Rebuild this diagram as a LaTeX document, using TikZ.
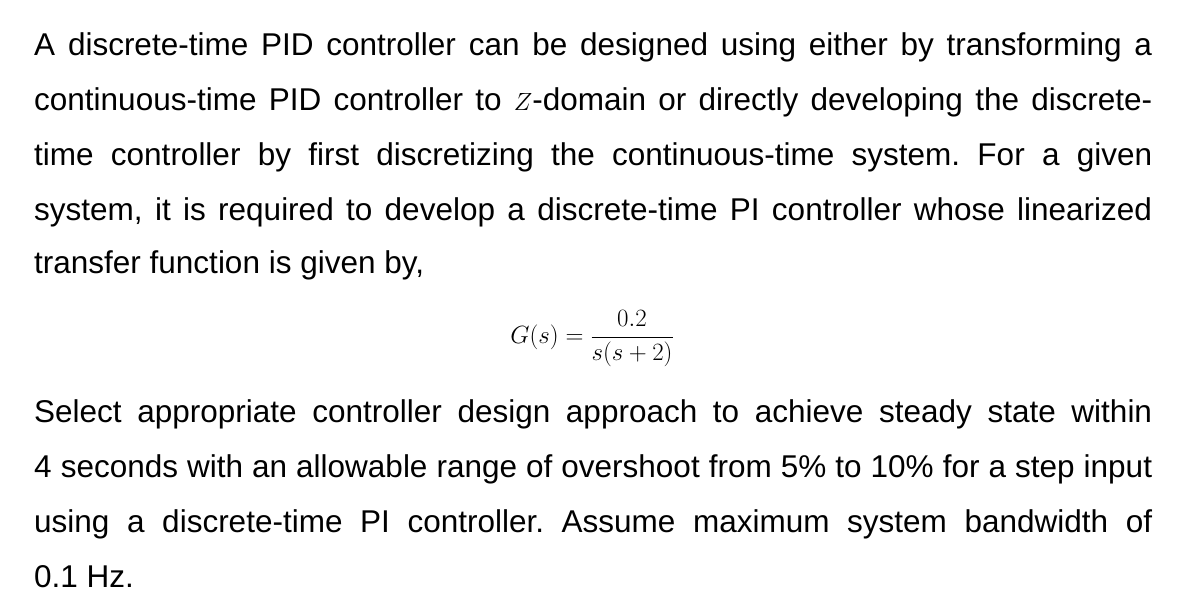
\documentclass[tikz,border=0pt]{standalone}
\usepackage{fontspec}
\setmainfont{Liberation Sans}
\frenchspacing
\begin{document}
\begin{tikzpicture}[x=1pt,y=1pt,
  ln/.style={anchor=base west,inner sep=0pt,font=\fontsize{31.5}{36}\selectfont}]
\useasboundingbox (0,0) rectangle (1189,-598);
\def\W{1118pt}
\node[ln] (l1) at (34,-55) {\makebox[\W][s]{A discrete-time PID controller can be designed using either by transforming a}};
\node[ln] (l2) at (34,-110) {\makebox[\W][s]{continuous-time PID controller to $Z$-domain or directly developing the discrete-}};
\node[ln] (l3) at (34,-165) {\makebox[\W][s]{time controller by first discretizing the continuous-time system. For a given}};
\node[ln] (l4) at (34,-220) {\makebox[\W][s]{system, it is required to develop a discrete-time PI controller whose linearized}};
\node[ln] (l5) at (34,-273) {transfer function is given by,};
\node[inner sep=0pt,font=\fontsize{33}{38}\selectfont] (eq) at (592,-339) {$G(s)=\displaystyle\frac{0.2}{s(s+2)}$};
\node[ln] (l6) at (34,-422) {\makebox[\W][s]{Select appropriate controller design approach to achieve steady state within}};
\node[ln] (l7) at (34,-477) {\makebox[\W][s]{4 seconds with an allowable range of overshoot from 5\% to 10\% for a step input}};
\node[ln] (l8) at (34,-532) {\makebox[\W][s]{using a discrete-time PI controller. Assume maximum system bandwidth of}};
\node[ln] (l9) at (34,-587) {0.1 Hz.};
\end{tikzpicture}
\end{document}
